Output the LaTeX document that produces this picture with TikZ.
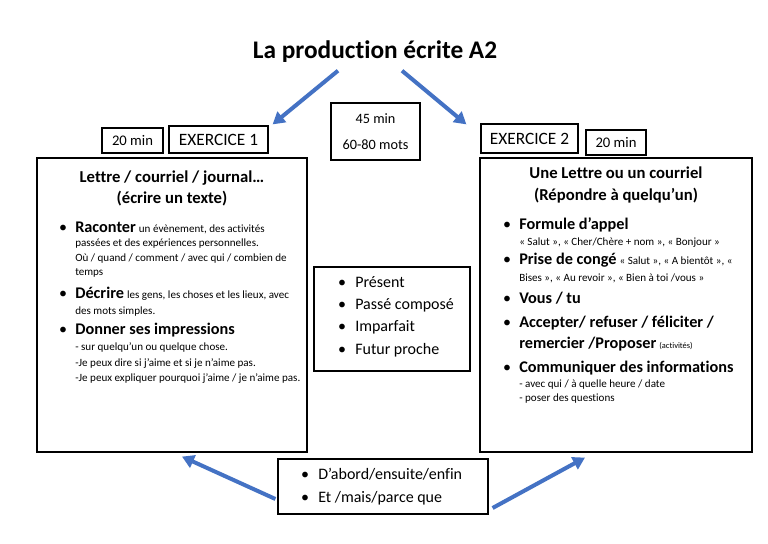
\documentclass[tikz,border=0pt]{standalone}
\usepackage{fontspec}
\setmainfont[Ligatures=NoCommon]{Carlito}
\usetikzlibrary{arrows.meta}
\definecolor{flecheblue}{RGB}{68,114,196}
\newcommand\motcle{\bfseries\fontsize{12.2}{14}\selectfont}
\newcommand\detail{\fontsize{8.3}{10}\selectfont}
\newcommand\minidetail{\fontsize{6.3}{8}\selectfont}

\begin{document}
\begin{tikzpicture}[x=0.75pt,y=-0.75pt,
  cadre/.style={draw,line width=0.9pt,inner sep=0pt},
  ligne/.style={anchor=base west,inner sep=0pt},
  puce/.style={anchor=base,inner sep=0pt,font=\fontsize{12}{14}\selectfont},
  fleche/.style={-{Triangle[length=9pt,width=10pt]},flecheblue,line width=3pt}]
  % fond
  \path[use as bounding box,fill=white] (0,0) rectangle (768,543);

  % titre
  \node[anchor=base,font=\bfseries\fontsize{19}{23}\selectfont] (titre) at (375,58) {La production écrite A2};

  % petites boites du haut
  \node[cadre,minimum width=45.75pt,minimum height=18.75pt,font=\fontsize{11}{13}\selectfont] (t1) at (132.5,140.5) {20 min};
  \node[cadre,minimum width=74.25pt,minimum height=20.25pt,font=\fontsize{13}{15}\selectfont] (e1) at (218.5,139.5) {EXERCICE 1};
  \node[cadre,line width=1.4pt,minimum width=66.75pt,minimum height=42.75pt,align=center,font=\fontsize{10.7}{20}\selectfont] (duree) at (375.5,131.5) {45 min\\60-80 mots};
  \node[cadre,minimum width=72.75pt,minimum height=21.75pt,font=\fontsize{13}{15}\selectfont] (e2) at (529.5,138.5) {EXERCICE 2};
  \node[cadre,minimum width=45pt,minimum height=18.75pt,font=\fontsize{11}{13}\selectfont] (t2) at (616,142.5) {20 min};

  % grandes boites
  \node[cadre,minimum width=202.5pt,minimum height=220.5pt] (ex1) at (172,305) {};
  \node[cadre,minimum width=204pt,minimum height=220.5pt] (ex2) at (616,305) {};
  \node[cadre,minimum width=117pt,minimum height=78pt] (temps) at (392,319) {};
  \node[cadre,minimum width=157.5pt,minimum height=41.25pt] (bas) at (383,486.5) {};

  % exercice 1
  \node[anchor=base,inner sep=0pt,font=\bfseries\fontsize{12.5}{15}\selectfont] (h1a) at (172,182) {Lettre / courriel / journal…};
  \node[anchor=base,inner sep=0pt,font=\bfseries\fontsize{12.5}{15}\selectfont] (h1b) at (172,203) {(écrire un texte)};
  \node[puce] (p1) at (63,232) {\textbullet};
  \node[ligne] (ra1) at (75,232) {{\motcle Raconter} {\detail un évènement, des activités}};
  \node[ligne,font=\detail] (ra2) at (75,246.5) {passées et des expériences personnelles.};
  \node[ligne,font=\detail] (ra3) at (75,261) {Où / quand / comment / avec qui / combien de};
  \node[ligne,font=\detail] (ra4) at (75,275.5) {temps};
  \node[puce] (p2) at (63,298) {\textbullet};
  \node[ligne] (de1) at (75,298) {{\motcle Décrire} {\detail les gens, les choses et les lieux, avec}};
  \node[ligne,font=\detail] (de2) at (75,314) {des mots simples.};
  \node[puce] (p3) at (63,334) {\textbullet};
  \node[ligne,font=\motcle] (do1) at (75,334) {Donner ses impressions};
  \node[ligne,font=\detail] (do2) at (75,350) {- sur quelqu’un ou quelque chose.};
  \node[ligne,font=\detail] (do3) at (75,366) {-Je peux dire si j’aime et si je n’aime pas.};
  \node[ligne,font=\detail] (do4) at (75,381) {-Je peux expliquer pourquoi j’aime / je n’aime pas.};

  % exercice 2
  \node[anchor=base,inner sep=0pt,font=\bfseries\fontsize{12.5}{15}\selectfont] (h2a) at (616,178) {Une Lettre ou un courriel};
  \node[anchor=base,inner sep=0pt,font=\bfseries\fontsize{12.5}{15}\selectfont] (h2b) at (616,200) {(Répondre à quelqu’un)};
  \node[puce] (q1) at (507,229) {\textbullet};
  \node[ligne,font=\motcle] (fo1) at (519,229) {Formule d’appel};
  \node[ligne,font=\detail] (fo2) at (519,245) {« Salut », « Cher/Chère + nom », « Bonjour »};
  \node[puce] (q2) at (507,264) {\textbullet};
  \node[ligne] (pr1) at (519,264) {{\motcle Prise de congé} {\detail « Salut », « A bientôt », «}};
  \node[ligne,font=\detail] (pr2) at (519,281) {Bises », « Au revoir », « Bien à toi /vous »};
  \node[puce] (q3) at (507,303) {\textbullet};
  \node[ligne,font=\motcle] (vo) at (519,303) {Vous / tu};
  \node[puce] (q4) at (507,327) {\textbullet};
  \node[ligne,font=\motcle] (ac1) at (519,327) {Accepter/ refuser / féliciter /};
  \node[ligne] (ac2) at (519,348) {{\motcle remercier /Proposer} {\minidetail (activités)}};
  \node[puce] (q5) at (507,372) {\textbullet};
  \node[ligne,font=\motcle] (co1) at (519,372) {Communiquer des informations};
  \node[ligne,font=\detail] (co2) at (519,387) {- avec qui / à quelle heure / date};
  \node[ligne,font=\detail] (co3) at (519,401) {- poser des questions};

  % temps verbaux
  \foreach \tv [count=\i] in {Présent, Passé composé, Imparfait, Futur proche}{
    \node[puce] (tp\i) at (342,{287+22.4*(\i-1)}) {\textbullet};
    \node[ligne,font=\fontsize{12}{14}\selectfont] (tt\i) at (355,{287+22.4*(\i-1)}) {\tv};
  }

  % connecteurs
  \foreach \cn [count=\i] in {D’abord/ensuite/enfin, Et /mais/parce que}{
    \node[puce] (bp\i) at (305,{479+23*(\i-1)}) {\textbullet};
    \node[ligne,font=\fontsize{12}{14}\selectfont] (bt\i) at (318,{479+23*(\i-1)}) {\cn};
  }

  % fleches
  \draw[fleche] ([shift={(-37,4)}]titre.south) -- ([shift={(4,-1)}]e1.north east);
  \draw[fleche] ([shift={(27,4)}]titre.south) -- ([shift={(-14,1)}]e2.north west);
  \draw[fleche] ([shift={(-2,12.5)}]bas.west) -- ([shift={(10,4)}]ex1.south);
  \draw[fleche] ([shift={(4,21.5)}]bas.east) -- ([shift={(-31,5)}]ex2.south);
\end{tikzpicture}
\end{document}
